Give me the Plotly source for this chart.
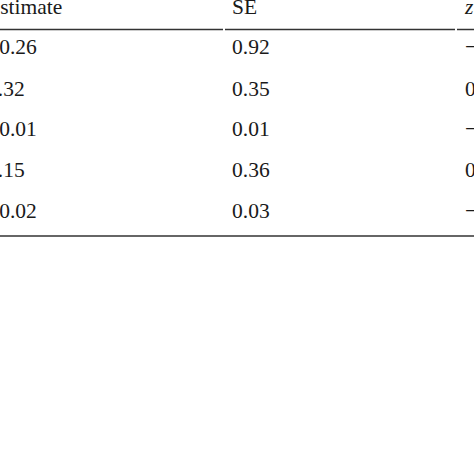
import plotly.graph_objects as go

# Table contents (cropped view of a regression table)
headers = ["Estimate", "SE", "<i>z</i>"]
estimates = ["−0.26", "0.32", "−0.01", "0.15", "−0.02"]
std_errors = ["0.92", "0.35", "0.01", "0.36", "0.03"]
z_values = ["−0.28", "0.91", "−1.00", "0.42", "−0.67"]

W = H = 474
COL_X = [-13, 232, 465]
HEADER_Y = 9
ROW_Y = [49, 91, 131, 172, 213]
TEXT_COLOR = "#1a1a1a"
FONT = dict(family="Liberation Serif, Times New Roman, serif", size=21.5, color=TEXT_COLOR)

fig = go.Figure()

# header row
fig.add_trace(go.Scatter(
    x=COL_X, y=[HEADER_Y] * len(headers), text=headers,
    mode="text", textposition="middle right", textfont=FONT,
    cliponaxis=True, hoverinfo="skip",
))

# body columns
for cx, col in zip(COL_X, [estimates, std_errors, z_values]):
    fig.add_trace(go.Scatter(
        x=[cx] * len(col), y=ROW_Y, text=col,
        mode="text", textposition="middle right", textfont=FONT,
        cliponaxis=True, hoverinfo="skip",
    ))

# rules: header rule broken between columns, full bottom rule
for x0, x1 in [(0, 223), (225, 455), (457, W)]:
    fig.add_shape(type="line", x0=x0, x1=x1, y0=29.5, y1=29.5,
                  line=dict(color="#333333", width=1.5))
fig.add_shape(type="line", x0=0, x1=W, y0=236, y1=236,
              line=dict(color="#333333", width=1.5))

fig.update_layout(
    width=W, height=H,
    margin=dict(l=0, r=0, t=0, b=0),
    paper_bgcolor="white", plot_bgcolor="white",
    showlegend=False,
    xaxis=dict(range=[0, W], visible=False, fixedrange=True),
    yaxis=dict(range=[H, 0], visible=False, fixedrange=True),
)

# drop the page's default body margin so the table sits flush at the edges
fig.write_html("out.html", config={"displayModeBar": False},
               post_script="document.body.style.margin='0';document.body.style.overflow='hidden';")
